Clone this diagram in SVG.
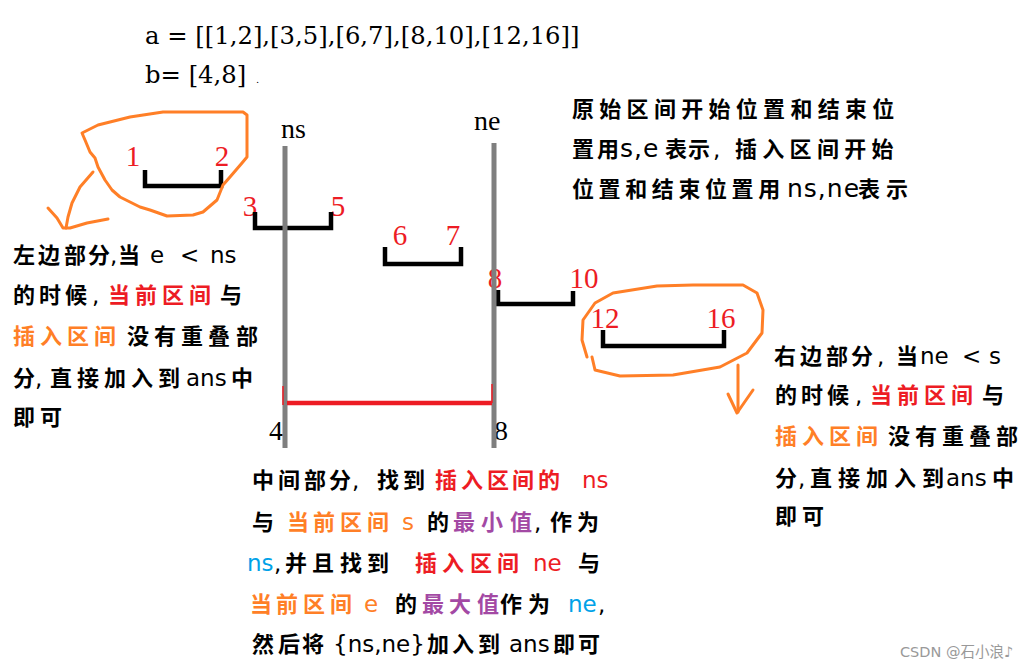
<svg xmlns="http://www.w3.org/2000/svg" width="1034" height="669" viewBox="0 0 1034 669">
<style>
.cn{font-family:"Noto Sans CJK SC","Noto Sans CJK TC",sans-serif;font-weight:700;font-size:22px;letter-spacing:0px}
.lt{font-family:"DejaVu Sans",sans-serif;font-size:23px}
.lt2{font-family:"DejaVu Sans",sans-serif;font-size:25px;letter-spacing:1px}
.num{font-family:"Liberation Serif",serif;font-size:29px;fill:#ED1C24;text-anchor:middle}
.lab{font-family:"Liberation Serif",serif;font-size:28px;fill:#000}
.k{fill:#000}.r{fill:#ED1C24}.o{fill:#FF7F27}.p{fill:#A349A4}.b{fill:#00A2E8}
.axis{stroke:#7F7F7F;stroke-width:5;fill:none}
.br{stroke:#000;stroke-width:4.5;fill:none;stroke-linejoin:miter}
.hand{stroke:#FF7F27;stroke-width:3;fill:none;stroke-linejoin:round;stroke-linecap:round}
</style>
<rect width="1034" height="669" fill="#fff"/>

<g id="formula" font-family="DejaVu Serif, serif" font-size="24.3" fill="#000">
<text x="145" y="44">a = [[1,2],[3,5],[6,7],[8,10],[12,16]]</text>
<text x="145" y="83">b= [4,8]</text>
<text x="256" y="83" font-size="10">.</text>
</g>

<g id="axis-labels">
<text class="lab" x="281" y="138">ns</text>
<text class="lab" x="474" y="130">ne</text>
<text class="lab" x="276" y="440" text-anchor="middle">4</text>
<text class="lab" x="501" y="440" text-anchor="middle">8</text>
</g>

<g id="interval-1-2">
<text class="num" x="133" y="166">1</text>
<text class="num" x="222" y="166">2</text>
<path class="br" d="M145 170V186H221V170"/>
</g>
<g id="interval-3-5">
<text class="num" x="250" y="216">3</text>
<text class="num" x="338" y="216">5</text>
<path class="br" d="M255 212V228H331V212"/>
</g>
<g id="interval-6-7">
<text class="num" x="400" y="245">6</text>
<text class="num" x="453" y="245">7</text>
<path class="br" d="M385 247V264H461V247"/>
</g>
<g id="interval-8-10">
<text class="num" x="495" y="288">8</text>
<text class="num" x="584" y="288">10</text>
<path class="br" d="M498 290V304H573V291"/>
</g>
<g id="interval-12-16">
<text class="num" x="605" y="328">12</text>
<text class="num" x="721" y="328">16</text>
<path class="br" d="M603 330V346H724V330"/>
</g>

<g id="connectors">
<path class="axis" d="M285 146V448"/>
<path class="axis" d="M494 143V448"/>
<path d="M287 403H492" stroke="#ED1C24" stroke-width="4.5" fill="none"/>
<path d="M283 386V405M492 384V403" stroke="#ED1C24" stroke-width="1.5" fill="none"/>
<path class="hand" d="M82 133L98 125L130 117L163 112L243 112L247 115L247 157L242 163L230 177L223 185L217 200L203 212L193 215L167 216L150 210L140 207L120 197L112 190L105 180L98 167L95 158L90 152L85 140Z"/>
<path class="hand" d="M93 172L80 187L72 203L68 217L66 228"/>
<path class="hand" d="M48 208L57 218L63 228L70 228L87 223L108 219"/>
<path class="hand" d="M592 357L595 370L620 376L673 375L720 367L747 353L762 333L763 310L757 293L743 285L693 285L657 286L613 293L595 303L583 320L582 340L587 357"/>
<path class="hand" d="M738 365V412"/>
<path class="hand" d="M728 394L737 413L753 390"/>
</g>

<g id="note-top">
<text y="117"><tspan class="cn k" x="572" style="letter-spacing:5.3px">原始区间开始位置和结束位</tspan></text>
<text y="157"><tspan class="cn k" x="572 597">置用</tspan><tspan class="lt2 k" x="620">s,e</tspan><tspan class="cn k" x="665 688">表示</tspan><tspan class="lt k" x="713">,</tspan><tspan class="cn k" x="735" style="letter-spacing:5.3px">插入区间开始</tspan></text>
<text y="197"><tspan class="cn k" x="572" style="letter-spacing:4.6px">位置和结束位置用</tspan><tspan class="lt2 k" x="787">ns,ne</tspan><tspan class="cn k" x="858 886">表示</tspan></text>
</g>

<g id="note-left">
<text y="263"><tspan class="cn k" x="13 38 64 88">左边部分</tspan><tspan class="lt k" x="110">,</tspan><tspan class="cn k" x="118">当</tspan><tspan class="lt k" x="150">e</tspan><tspan class="lt k" x="180">&lt;</tspan><tspan class="lt k" x="210">ns</tspan></text>
<text y="303"><tspan class="cn k" x="13 39 65">的时候</tspan><tspan class="lt k" x="92">,</tspan><tspan class="cn r" x="108 135 162 189">当前区间</tspan><tspan class="cn k" x="220">与</tspan></text>
<text y="344"><tspan class="cn o" x="13 40 67 94">插入区间</tspan><tspan class="cn k" x="127 154 181 208 236">没有重叠部</tspan></text>
<text y="386"><tspan class="cn k" x="13">分</tspan><tspan class="lt k" x="35">,</tspan><tspan class="cn k" x="50 77 104 131 158">直接加入到</tspan><tspan class="lt k" x="186">ans</tspan><tspan class="cn k" x="231">中</tspan></text>
<text y="425"><tspan class="cn k" x="13 40">即可</tspan></text>
</g>

<g id="note-right">
<text y="364"><tspan class="cn k" x="774 800 826 851">右边部分</tspan><tspan class="lt k" x="877">,</tspan><tspan class="cn k" x="896">当</tspan><tspan class="lt k" x="920">ne</tspan><tspan class="lt k" x="962">&lt;</tspan><tspan class="lt k" x="989">s</tspan></text>
<text y="403"><tspan class="cn k" x="775 801 827">的时候</tspan><tspan class="lt k" x="855">,</tspan><tspan class="cn r" x="870 897 924 951">当前区间</tspan><tspan class="cn k" x="982">与</tspan></text>
<text y="444"><tspan class="cn o" x="775 802 829 856">插入区间</tspan><tspan class="cn k" x="888 915 942 969 996">没有重叠部</tspan></text>
<text y="486"><tspan class="cn k" x="775">分</tspan><tspan class="lt k" x="798">,</tspan><tspan class="cn k" x="810 838 866 894 922">直接加入到</tspan><tspan class="lt k" x="946">ans</tspan><tspan class="cn k" x="992">中</tspan></text>
<text y="524"><tspan class="cn k" x="775 802">即可</tspan></text>
</g>

<g id="note-middle">
<text y="488"><tspan class="cn k" x="252 278 304 329">中间部分</tspan><tspan class="lt k" x="352">,</tspan><tspan class="cn k" x="377 403">找到</tspan><tspan class="cn r" x="435 461 487 512 538">插入区间的</tspan><tspan class="lt r" x="582">ns</tspan></text>
<text y="530"><tspan class="cn k" x="252">与</tspan><tspan class="cn o" x="287 313 340 367">当前区间</tspan><tspan class="lt o" x="402">s</tspan><tspan class="cn k" x="427">的</tspan><tspan class="cn p" x="453 481 510">最小值</tspan><tspan class="lt k" x="534">,</tspan><tspan class="cn k" x="550 577">作为</tspan></text>
<text y="571"><tspan class="lt b" x="247">ns</tspan><tspan class="lt k" x="274">,</tspan><tspan class="cn k" x="285 312 340 367">并且找到</tspan><tspan class="cn r" x="415 442 470 497">插入区间</tspan><tspan class="lt r" x="533">ne</tspan><tspan class="cn k" x="578">与</tspan></text>
<text y="612"><tspan class="cn o" x="250 276 303 330">当前区间</tspan><tspan class="lt o" x="364">e</tspan><tspan class="cn k" x="395">的</tspan><tspan class="cn p" x="422 449 477">最大值</tspan><tspan class="cn k" x="500 528">作为</tspan><tspan class="lt b" x="568">ne</tspan><tspan class="lt k" x="598">,</tspan></text>
<text y="652"><tspan class="cn k" x="252 278 302">然后将</tspan><tspan class="lt k" x="333">{ns,ne}</tspan><tspan class="cn k" x="427 452 478">加入到</tspan><tspan class="lt k" x="509">ans</tspan><tspan class="cn k" x="553 578">即可</tspan></text>
</g>

<g id="watermark">
<text x="900" y="657" font-family="DejaVu Sans, Noto Sans CJK SC, sans-serif" font-size="14.5" fill="#999">CSDN @石小浪♪</text>
</g>
</svg>
